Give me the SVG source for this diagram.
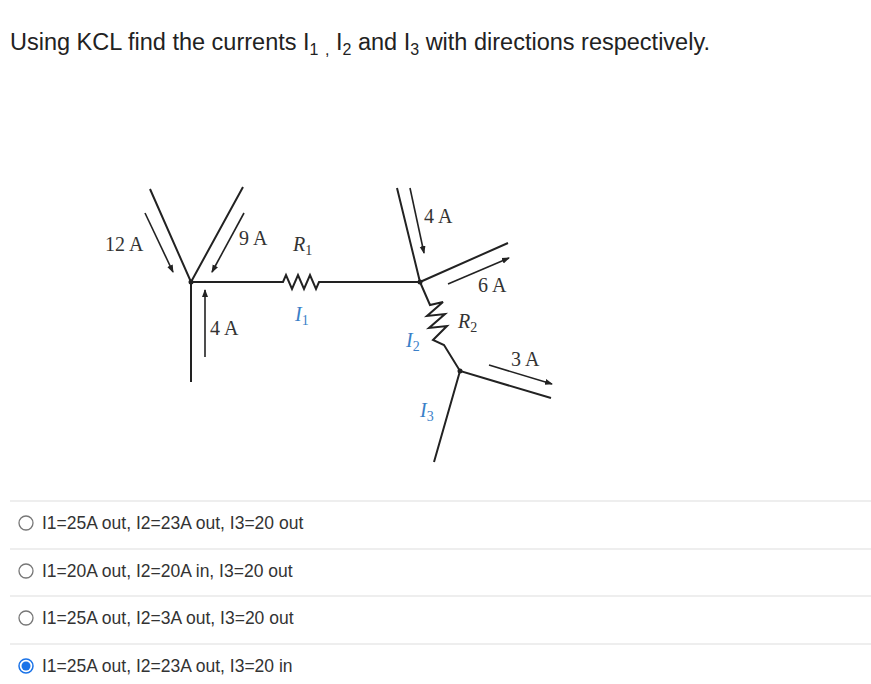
<svg xmlns="http://www.w3.org/2000/svg" width="871" height="684" viewBox="0 0 871 684">
<style>
.w{stroke:#222;stroke-width:2;fill:none}
.a{stroke:#222;stroke-width:1.6;fill:none;marker-end:url(#ah)}
.t{font-family:"Liberation Serif",serif;font-size:20px;fill:#333}
.b{font-family:"Liberation Serif",serif;font-size:20px;font-style:italic;fill:#3a7fc8}
.r{font-family:"Liberation Serif",serif;font-size:20px;font-style:italic;fill:#333}
.o{font-family:"Liberation Sans",Arial,sans-serif;font-size:17.5px;fill:#333}
.sep{stroke:#ddd;stroke-width:1}
.rad{fill:#fff;stroke:#777;stroke-width:1.3}
</style>
<defs><marker id="ah" markerWidth="8" markerHeight="8" refX="7" refY="4" orient="auto" markerUnits="userSpaceOnUse"><path d="M0,1 L8,4 L0,7 Z" fill="#222"/></marker></defs>
<rect width="871" height="684" fill="#fff"/>
<text x="10" y="50" font-family="Liberation Sans,Arial,sans-serif" font-size="23.5" fill="#222">Using KCL find the currents I<tspan font-size="16" dy="5">1</tspan><tspan dy="-5"> </tspan><tspan font-size="16" dy="5">,</tspan><tspan dy="-5"> I</tspan><tspan font-size="16" dy="5">2</tspan><tspan dy="-5"> and I</tspan><tspan font-size="16" dy="5">3</tspan><tspan dy="-5"> with directions respectively.</tspan></text>
<g id="connectors">
<path class="w" d="M150,189 L191,282 L243,187 M191,282 L191,382 M191,282 L283,282 l3,-7 l6,14 l6,-14 l6,14 l6,-14 l6,14 l3,-7 L420,282"/>
<path class="w" d="M397,188 L420,282 L508,243 M420,282 L430,305 L443,302 L427,316 L445,314 L429,328 L447,326 L433,340 L444,345 L460,371 L551,398 M460,371 L434,462"/>
<line class="a" x1="145" y1="213" x2="173" y2="272"/>
<line class="a" x1="244" y1="213" x2="212" y2="272"/>
<line class="a" x1="205" y1="357" x2="205" y2="290"/>
<line class="a" x1="410" y1="188" x2="424" y2="253"/>
<line class="a" x1="448" y1="284" x2="509" y2="258"/>
<line class="a" x1="489" y1="365" x2="552" y2="384"/>
</g>
<g id="j1"><circle cx="191" cy="282" r="2.5" fill="#222"/></g>
<g id="j2"><circle cx="420" cy="282" r="2.5" fill="#222"/></g>
<g id="j3"><circle cx="460" cy="371" r="2.5" fill="#222"/></g>
<g id="labels">
<text class="t" x="105" y="251">12 A</text>
<text class="t" x="239" y="245">9 A</text>
<text class="r" x="293" y="251">R<tspan font-size="14" dy="4" font-style="normal">1</tspan></text>
<text class="b" x="295" y="321">I<tspan font-size="14" dy="4" font-style="normal">1</tspan></text>
<text class="t" x="210" y="335">4 A</text>
<text class="t" x="424" y="223">4 A</text>
<text class="t" x="478" y="292">6 A</text>
<text class="r" x="458" y="328">R<tspan font-size="14" dy="4" font-style="normal">2</tspan></text>
<text class="b" x="406" y="347">I<tspan font-size="14" dy="4" font-style="normal">2</tspan></text>
<text class="t" x="511" y="366">3 A</text>
<text class="b" x="420" y="417">I<tspan font-size="14" dy="4" font-style="normal">3</tspan></text>
</g>
<g id="options">
<line class="sep" x1="10" y1="501" x2="871" y2="501"/>
<line class="sep" x1="10" y1="549" x2="871" y2="549"/>
<line class="sep" x1="10" y1="596" x2="871" y2="596"/>
<line class="sep" x1="10" y1="644" x2="871" y2="644"/>
<circle class="rad" cx="26" cy="523" r="7"/>
<circle class="rad" cx="26" cy="571" r="7"/>
<circle class="rad" cx="26" cy="618" r="7"/>
<circle cx="26" cy="666" r="7" fill="#fff" stroke="#1a73e8" stroke-width="1.5"/>
<circle cx="26" cy="666" r="4.5" fill="#1a73e8"/>
<text class="o" x="42" y="529">I1=25A out, I2=23A out, I3=20 out</text>
<text class="o" x="42" y="577">I1=20A out, I2=20A in, I3=20 out</text>
<text class="o" x="42" y="624">I1=25A out, I2=3A out, I3=20 out</text>
<text class="o" x="42" y="672">I1=25A out, I2=23A out, I3=20 in</text>
</g>
</svg>
